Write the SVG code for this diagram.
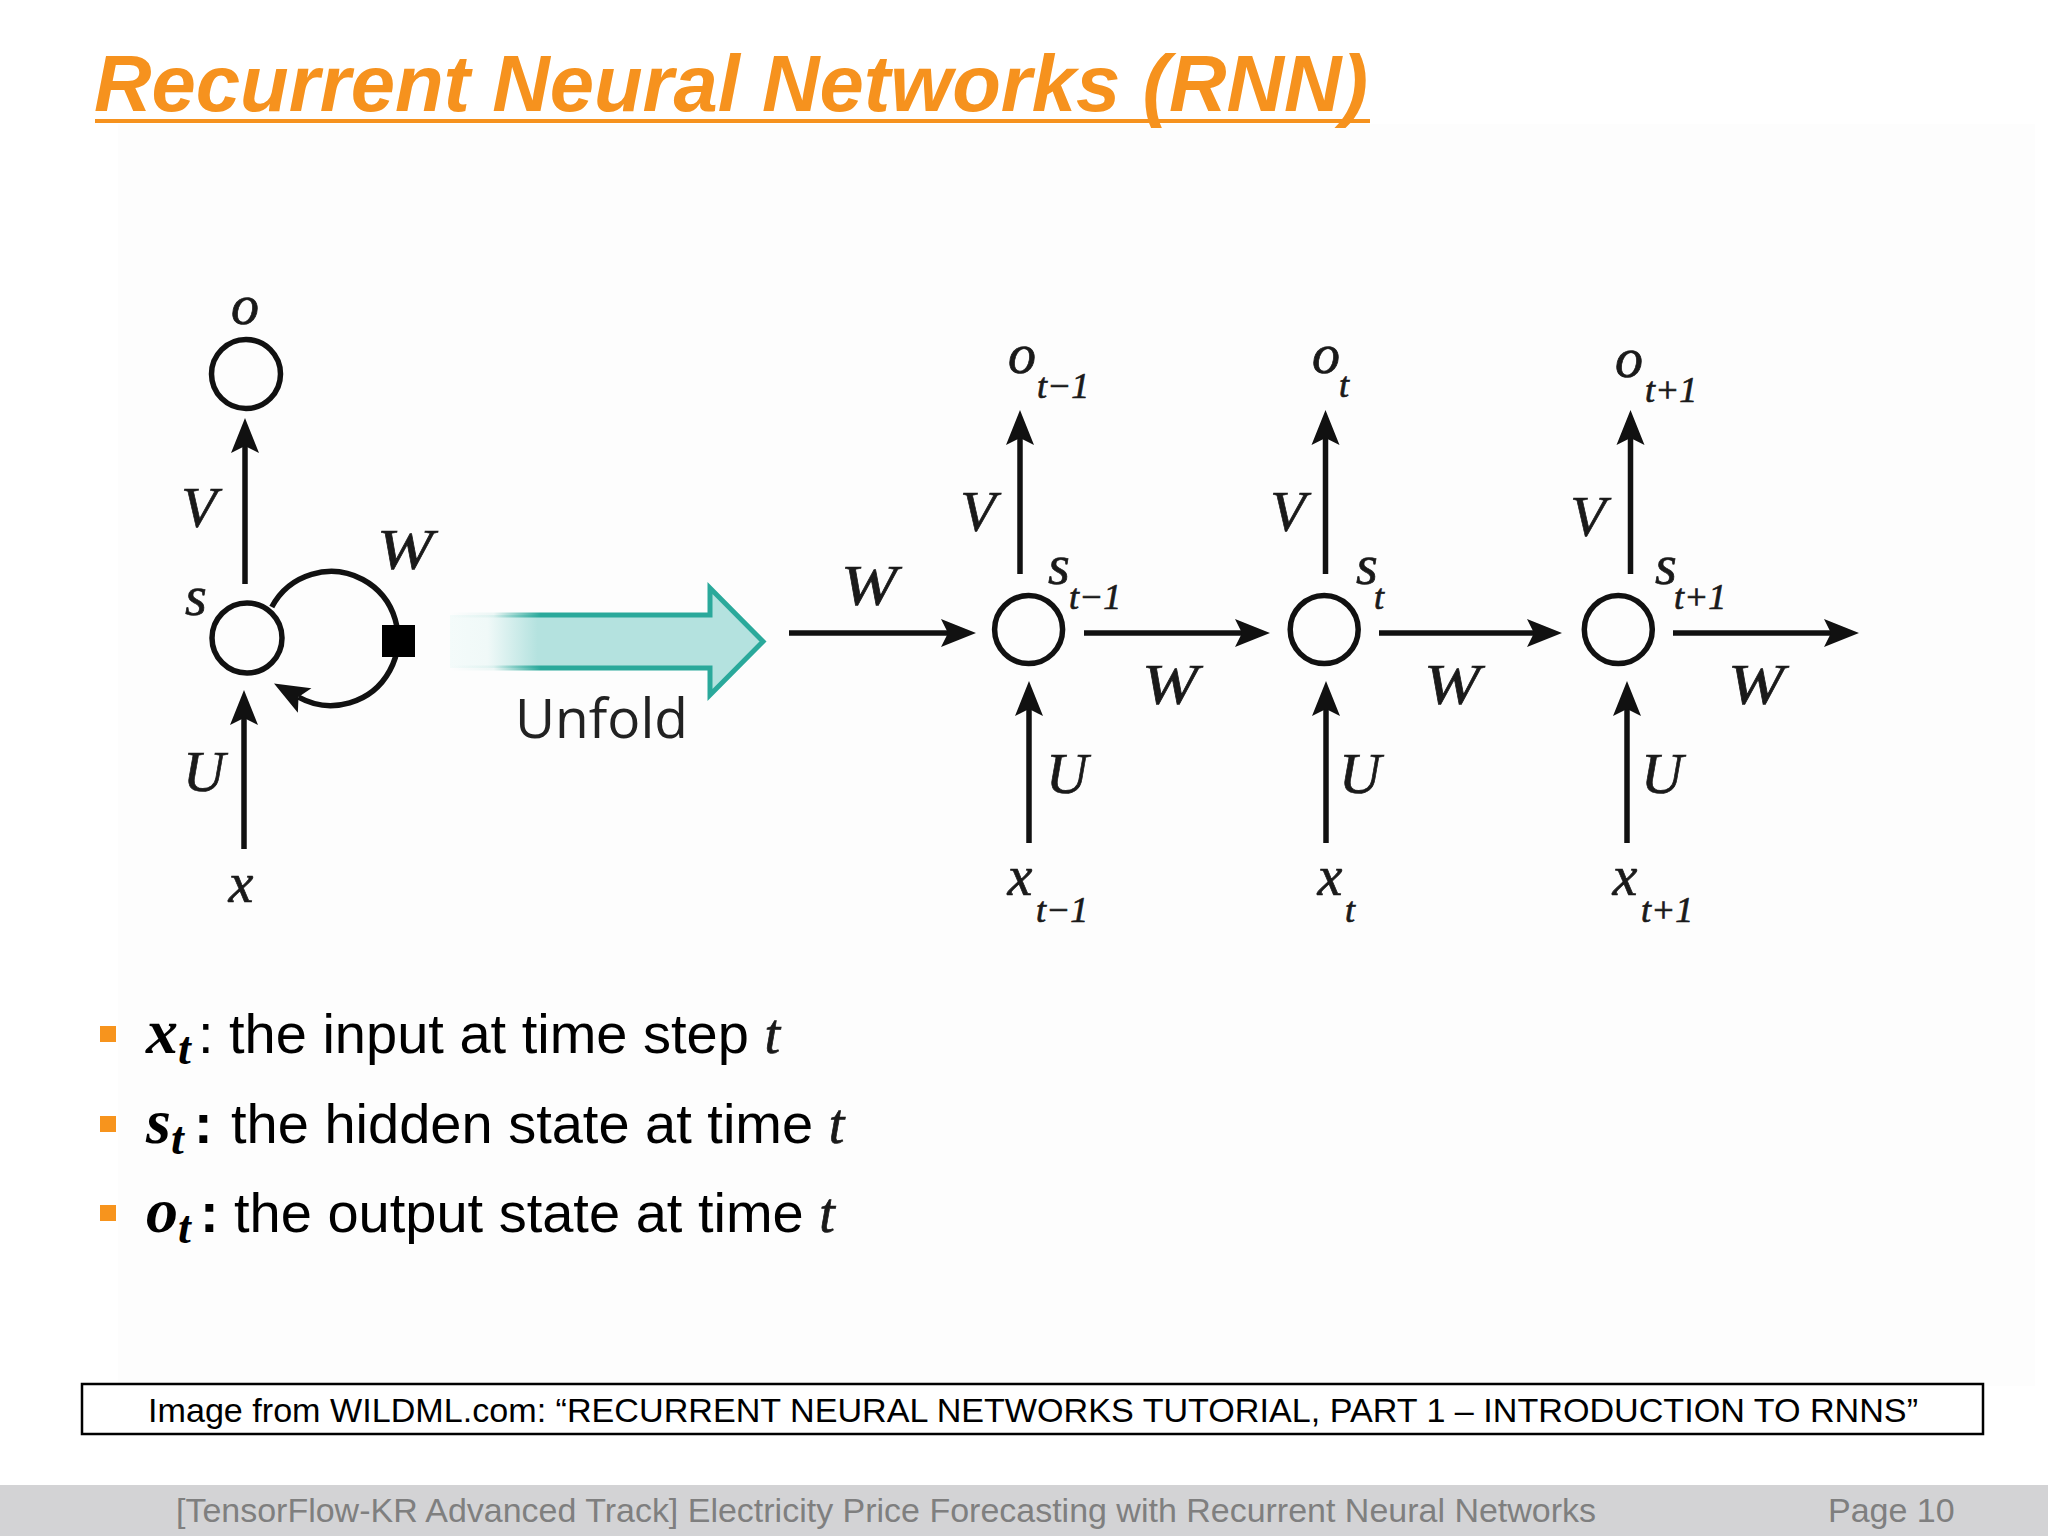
<svg xmlns="http://www.w3.org/2000/svg" width="2048" height="1536" viewBox="0 0 2048 1536">
  <style>
    .title { font-family: "Liberation Sans", Arial, sans-serif; font-weight: bold; font-style: italic; font-size: 80px; fill: #F6921E; }
    .m { font-family: "Liberation Serif", "Times New Roman", serif; font-style: italic; fill: #1a1a1a; stroke: #1a1a1a; stroke-width: 0.7; }
    .big { font-size: 58px; }
    .low { font-size: 56px; }
    .sub { font-size: 36px; }
    .node { fill: none; stroke: #111; stroke-width: 5.5; }
    .conn { fill: none; stroke: #111; stroke-width: 5.5; marker-end: url(#ah); }
    .body { font-family: "Liberation Sans", Arial, sans-serif; font-size: 56px; fill: #000; }
    .mb { font-family: "Liberation Serif", "Times New Roman", serif; font-style: italic; font-weight: bold; fill: #000; }
    .bullet { fill: #F7941D; }
    .cap { font-family: "Liberation Sans", Arial, sans-serif; font-size: 33.5px; fill: #000; }
    .foot { font-family: "Liberation Sans", Arial, sans-serif; font-size: 34px; fill: #7f7f7f; }
  </style>
  <defs>
    <marker id="ah" markerUnits="userSpaceOnUse" markerWidth="36" markerHeight="28" viewBox="0 0 36 28" refX="7" refY="14" orient="auto" overflow="visible">
      <path d="M0,0 L35,14 L0,28 L7,14 Z" fill="#111"/>
    </marker>
    <linearGradient id="uFill" gradientUnits="userSpaceOnUse" x1="450" y1="0" x2="763" y2="0">
      <stop offset="0" stop-color="#f4fbfa"/>
      <stop offset="0.12" stop-color="#f0f9f8"/>
      <stop offset="0.28" stop-color="#b4e2df"/>
      <stop offset="1" stop-color="#b4e2df"/>
    </linearGradient>
    <linearGradient id="uStroke" gradientUnits="userSpaceOnUse" x1="450" y1="0" x2="763" y2="0">
      <stop offset="0" stop-color="#2aa99b" stop-opacity="0"/>
      <stop offset="0.14" stop-color="#2aa99b" stop-opacity="0.08"/>
      <stop offset="0.29" stop-color="#2aa99b" stop-opacity="1"/>
      <stop offset="1" stop-color="#2aa99b" stop-opacity="1"/>
    </linearGradient>
  </defs>

  <rect x="0" y="0" width="2048" height="1536" fill="#ffffff"/>
  <rect x="118" y="124" width="1917" height="1262" fill="#fdfdfd"/>

  <!-- Title -->
  <g id="title">
    <text class="title" x="94" y="111" textLength="1274" lengthAdjust="spacingAndGlyphs">Recurrent Neural Networks (RNN)</text>
    <rect x="95" y="119" width="1275" height="4" fill="#F6921E"/>
  </g>

  <!-- Connectors -->
  <g id="connectors">
    <path class="conn" d="M245,584 L245,446"/>
    <path class="conn" d="M244,849 L244,718"/>
    <path class="conn" d="M271.8,607 A67,67 0 1 1 298.5,697.1"/>
    <path class="conn" d="M789,633 L948,633"/>
    <path class="conn" d="M1020,574 L1020,438"/>
    <path class="conn" d="M1029,843 L1029,709"/>
    <path class="conn" d="M1084,633 L1242,633"/>
    <path class="conn" d="M1325.5,574 L1325.5,438"/>
    <path class="conn" d="M1326,843 L1326,709"/>
    <path class="conn" d="M1379,633 L1534,633"/>
    <path class="conn" d="M1630.5,574 L1630.5,438"/>
    <path class="conn" d="M1627,843 L1627,709"/>
    <path class="conn" d="M1673,633 L1831,633"/>
  </g>

  <!-- Folded network -->
  <g id="folded-o">
    <circle class="node" cx="246" cy="374" r="34.5"/>
    <text class="m low" x="245" y="324" text-anchor="middle">o</text>
  </g>
  <g id="folded-s">
    <circle class="node" cx="247" cy="638" r="35"/>
    <text class="m low" x="196" y="615" text-anchor="middle">s</text>
  </g>
  <g id="folded-x">
    <text class="m low" x="241" y="902" text-anchor="middle">x</text>
  </g>
  <g id="folded-labels">
    <text class="m big" x="199" y="527" text-anchor="middle">V</text>
    <text class="m big" x="204" y="791" text-anchor="middle">U</text>
    <text class="m big" x="377" y="569" textLength="56" lengthAdjust="spacingAndGlyphs">W</text>
    <rect x="382" y="625" width="33" height="32" fill="#000"/>
  </g>

  <!-- Unfold arrow -->
  <g id="unfold">
    <path d="M450,615 L710,615 L710,588 L763,641.5 L710,695 L710,668 L450,668 Z" fill="url(#uFill)" stroke="url(#uStroke)" stroke-width="5" stroke-linejoin="miter"/>
    <text x="515" y="738" font-family="'Open Sans', 'Noto Sans', sans-serif" font-size="55" fill="#222" textLength="173">Unfold</text>
  </g>

  <!-- Unfolded network -->
  <g id="label-w-in">
    <text class="m big" x="841" y="605" textLength="56" lengthAdjust="spacingAndGlyphs">W</text>
  </g>
  <g id="node-t-1">
    <circle class="node" cx="1028.6" cy="629.6" r="34"/>
    <text class="m big" x="978" y="531" text-anchor="middle">V</text>
    <text class="m big" x="1067" y="793" text-anchor="middle">U</text>
    <text class="m low" x="1022" y="373" text-anchor="middle">o</text>
    <text class="m sub" x="1037" y="398">t−1</text>
    <text class="m low" x="1059" y="584" text-anchor="middle">s</text>
    <text class="m sub" x="1069" y="609">t−1</text>
    <text class="m low" x="1020" y="895" text-anchor="middle">x</text>
    <text class="m sub" x="1036" y="922">t−1</text>
    <text class="m big" x="1142" y="704" textLength="56" lengthAdjust="spacingAndGlyphs">W</text>
  </g>
  <g id="node-t">
    <circle class="node" cx="1324.2" cy="629.6" r="34"/>
    <text class="m big" x="1288" y="531" text-anchor="middle">V</text>
    <text class="m big" x="1360" y="793" text-anchor="middle">U</text>
    <text class="m low" x="1326" y="373" text-anchor="middle">o</text>
    <text class="m sub" x="1339" y="397">t</text>
    <text class="m low" x="1367" y="584" text-anchor="middle">s</text>
    <text class="m sub" x="1374" y="609">t</text>
    <text class="m low" x="1330" y="895" text-anchor="middle">x</text>
    <text class="m sub" x="1345" y="922">t</text>
    <text class="m big" x="1424" y="704" textLength="56" lengthAdjust="spacingAndGlyphs">W</text>
  </g>
  <g id="node-t1">
    <circle class="node" cx="1618.3" cy="629.6" r="34"/>
    <text class="m big" x="1588" y="536" text-anchor="middle">V</text>
    <text class="m big" x="1662" y="793" text-anchor="middle">U</text>
    <text class="m low" x="1629" y="377" text-anchor="middle">o</text>
    <text class="m sub" x="1645" y="402">t+1</text>
    <text class="m low" x="1666" y="584" text-anchor="middle">s</text>
    <text class="m sub" x="1674" y="609">t+1</text>
    <text class="m low" x="1625" y="895" text-anchor="middle">x</text>
    <text class="m sub" x="1641" y="922">t+1</text>
    <text class="m big" x="1728" y="704" textLength="56" lengthAdjust="spacingAndGlyphs">W</text>
  </g>

  <!-- Bullets -->
  <g id="bullets">
    <rect class="bullet" x="100" y="1026" width="16" height="16"/>
    <rect class="bullet" x="100" y="1116" width="16" height="16"/>
    <rect class="bullet" x="100" y="1205" width="16" height="16"/>
    <text y="1053"><tspan class="mb" x="146" font-size="64">x</tspan><tspan class="mb" font-size="46" dy="11">t</tspan><tspan class="body" x="198" dy="-11">:</tspan><tspan class="body" x="229">the input at time step </tspan><tspan class="m" font-size="56" fill="#000" stroke="none">t</tspan></text>
    <text y="1143"><tspan class="mb" x="146" font-size="64">s</tspan><tspan class="mb" font-size="46" dy="11">t</tspan><tspan class="body" font-weight="bold" x="194" dy="-11">:</tspan><tspan class="body" x="231">the hidden state at time </tspan><tspan class="m" font-size="56" fill="#000" stroke="none">t</tspan></text>
    <text y="1232"><tspan class="mb" x="146" font-size="64">o</tspan><tspan class="mb" font-size="46" dy="11">t</tspan><tspan class="body" font-weight="bold" x="200" dy="-11">:</tspan><tspan class="body" x="234">the output state at time </tspan><tspan class="m" font-size="56" fill="#000" stroke="none">t</tspan></text>
  </g>

  <!-- Caption -->
  <g id="caption">
    <rect x="82" y="1384" width="1901" height="50" fill="#ffffff" stroke="#000" stroke-width="2.5"/>
    <text class="cap" x="148" y="1422" textLength="1770" lengthAdjust="spacingAndGlyphs">Image from WILDML.com: “RECURRENT NEURAL NETWORKS TUTORIAL, PART 1 – INTRODUCTION TO RNNS”</text>
  </g>

  <!-- Footer -->
  <g id="footer">
    <rect x="0" y="1485" width="2048" height="51" fill="#d3d3d5"/>
    <text class="foot" x="176" y="1522" textLength="1420" lengthAdjust="spacingAndGlyphs">[TensorFlow-KR Advanced Track] Electricity Price Forecasting with Recurrent Neural Networks</text>
    <text class="foot" x="1828" y="1522">Page 10</text>
  </g>
</svg>
